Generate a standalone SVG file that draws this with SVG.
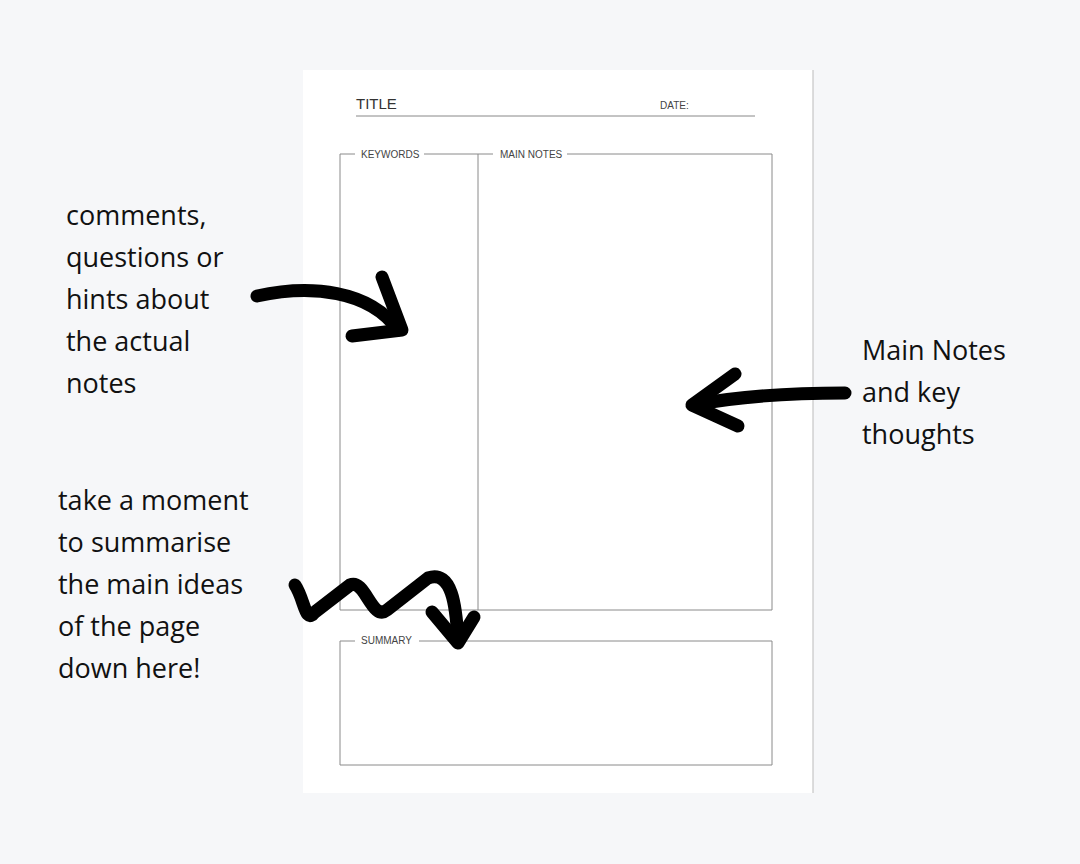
<svg xmlns="http://www.w3.org/2000/svg" width="1080" height="864" viewBox="0 0 1080 864">
<style>
.box{fill:none;stroke:#8a8a8a;stroke-width:1}
.lbl{font-family:"Liberation Sans",Arial,sans-serif;font-size:10px;fill:#444}
.note{font-family:"Open Sans","Noto Sans",sans-serif;font-size:27px;fill:#111}
.arr{fill:none;stroke:#000;stroke-width:13;stroke-linecap:round;stroke-linejoin:round}
</style>
<rect width="1080" height="864" fill="#f6f7f9"/>
<g id="page">
<rect x="303" y="70" width="510" height="723" fill="#fff"/>
<line x1="813" y1="70" x2="813" y2="793" stroke="#bbb"/>
<text x="356" y="109" font-family="Liberation Sans,Arial,sans-serif" font-size="15" fill="#333">TITLE</text>
<text x="660" y="109" class="lbl" font-size="9">DATE:</text>
<line x1="356" y1="116" x2="755" y2="116" stroke="#888"/>
</g>
<g id="keywords">
<path class="box" d="M355,154 H340 V610 H478 V154 H424"/>
<text x="361" y="158" class="lbl">KEYWORDS</text>
</g>
<g id="mainnotes">
<path class="box" d="M478,154 H493 M567,154 H772 V610 H478"/>
<text x="500" y="158" class="lbl">MAIN NOTES</text>
</g>
<g id="summary">
<path class="box" d="M355,641 H340 V765 H772 V641 H419"/>
<text x="361" y="644" class="lbl">SUMMARY</text>
</g>
<g id="texts">
<text class="note" x="66"><tspan x="66" y="225">comments,</tspan><tspan x="66" y="267">questions or</tspan><tspan x="66" y="309">hints about</tspan><tspan x="66" y="351">the actual</tspan><tspan x="66" y="393">notes</tspan></text>
<text class="note"><tspan x="862" y="360">Main Notes</tspan><tspan x="862" y="402">and key</tspan><tspan x="862" y="444">thoughts</tspan></text>
<text class="note"><tspan x="58" y="510">take a moment</tspan><tspan x="58" y="552">to summarise</tspan><tspan x="58" y="594">the main ideas</tspan><tspan x="58" y="636">of the page</tspan><tspan x="58" y="678">down here!</tspan></text>
</g>
<g id="connectors">
<path class="arr" d="M257,296 C310,284 370,290 398,330"/>
<path class="arr" d="M382,277 L402,330 L352,336"/>
<path class="arr" d="M845,393 C790,393 740,396 693,405"/>
<path class="arr" d="M735,374 L692,405 L738,426"/>
<path class="arr" d="M295,585 C305,600 305,625 315,612 L350,585 C365,578 372,622 387,610 L428,578 C452,570 456,605 458,640"/>
<path class="arr" d="M432,612 L458,643 L474,617"/>
</g>
</svg>
